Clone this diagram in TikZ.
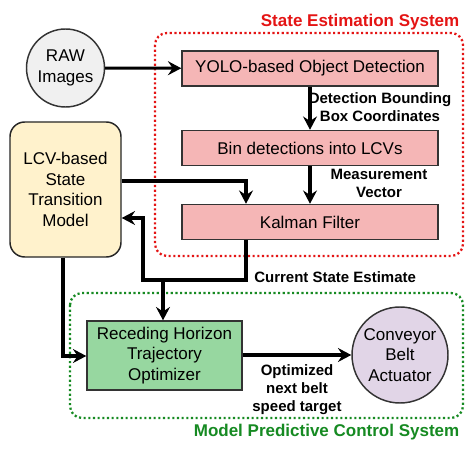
\documentclass[tikz,border=0pt]{standalone}
\usepackage{fontspec}
\setmainfont{Liberation Sans}
\usepackage{tikz}
\usetikzlibrary{positioning}
\usetikzlibrary{arrows.meta}
\usepackage{xcolor}

\definecolor{boxred}{RGB}{245,182,182}
\definecolor{boxgreen}{RGB}{151,215,160}
\definecolor{boxyellow}{RGB}{255,242,204}
\definecolor{boxlilac}{RGB}{225,213,231}
\definecolor{boxgray}{RGB}{240,240,240}
\definecolor{sysred}{RGB}{228,20,20}
\definecolor{sysgreen}{RGB}{22,138,34}

\tikzset{
  boxfont/.style={font=\fontsize{12.75}{15.4}\selectfont},
  lblfont/.style={font=\bfseries\fontsize{11.25}{13.6}\selectfont},
  redbox/.style={draw=black!80, line width=1.1pt, fill=boxred, boxfont,
    minimum width=192pt, minimum height=26.25pt, inner sep=0pt},
  roundnode/.style={circle, draw=black!80, line width=1.1pt, boxfont, align=center, inner sep=0pt},
  flow/.style={line width=2.3pt, -{Stealth[length=10pt, width=10.5pt, inset=3.5pt]}},
  plainflow/.style={line width=2.3pt},
  sysbox/.style={line width=1.7pt, dash pattern=on 1.6pt off 1.9pt, rounded corners=9pt},
}

\begin{document}
\begin{tikzpicture}[x=0.75pt, y=-0.75pt]

\useasboundingbox (0,0) rectangle (474,452);

%system frames%
\draw[sysbox, sysred] (155,33) rectangle (463,256);
\draw[sysbox, sysgreen] (70,293) rectangle (463,418);

\node[text=sysred, font=\bfseries\fontsize{12.75}{15}\selectfont, anchor=east] (setitle) at (464,22) {State Estimation System};
\node[text=sysgreen, font=\bfseries\fontsize{12.75}{15}\selectfont, anchor=east] (mpctitle) at (464,432) {Model Predictive Control System};

%state estimation chain%
\foreach \n/\y/\t in {yolo/68.5/YOLO-based Object Detection, bin/148/Bin detections into LCVs, kalman/222/Kalman Filter}
  \node[redbox] (\n) at (310,\y) {\t};

\node[roundnode, fill=boxgray, minimum size=58.5pt] (raw) at (65.5,68) {RAW\\Images};

\node[draw=black!85, line width=1.1pt, fill=boxyellow, rounded corners=11pt, boxfont, align=center,
  minimum width=83.25pt, minimum height=101.25pt, inner sep=0pt] (lcv) at (65.5,189.5) {LCV-based\\State\\Transition\\Model};

%control part%
\node[draw=black!80, line width=1.1pt, fill=boxgreen, boxfont, align=center,
  minimum width=116.25pt, minimum height=51.75pt, inner sep=0pt] (rhto) at (164.5,355.5) {Receding Horizon\\Trajectory\\Optimizer};

\node[roundnode, fill=boxlilac, minimum size=72pt] (conv) at (400,355) {Conveyor\\Belt\\Actuator};

%connectors%
\draw[flow] (raw) -- (yolo);
\draw[flow] (yolo) -- (bin);
\draw[flow] (bin) -- (kalman);

\coordinate (ktop) at (246,181);
\coordinate (kbot) at (246,280);
\coordinate (split) at (163,280);
\coordinate (back) at (143,218);
\coordinate (lcvdown) at (63,356);

\draw[flow] (lcv.east |- ktop) -- (ktop) -- (ktop |- kalman.north);
\draw[plainflow] (kbot |- kalman.south) -- (kbot) -- (split);
\draw[flow] (split) -- (back |- split) -- (back) -- (lcv.east |- back);
\draw[flow] (split) -- (split |- rhto.north);
\draw[flow] (lcvdown |- lcv.south) -- (lcvdown) -- (rhto.west |- lcvdown);
\draw[flow] (rhto.east |- conv) -- (conv.west);

%labels%
\node[lblfont, align=center] (bblbl) at (380,107.5) {Detection Bounding\\Box Coordinates};
\node[lblfont, align=center] (mvlbl) at (379,183) {Measurement\\Vector};
\node[lblfont, anchor=west, inner sep=0pt] (cselbl) at (254,277) {Current State Estimate};
\node[lblfont, align=center] (optlbl) at (297,390) {Optimized\\next belt\\speed target};

\end{tikzpicture}
\end{document}
